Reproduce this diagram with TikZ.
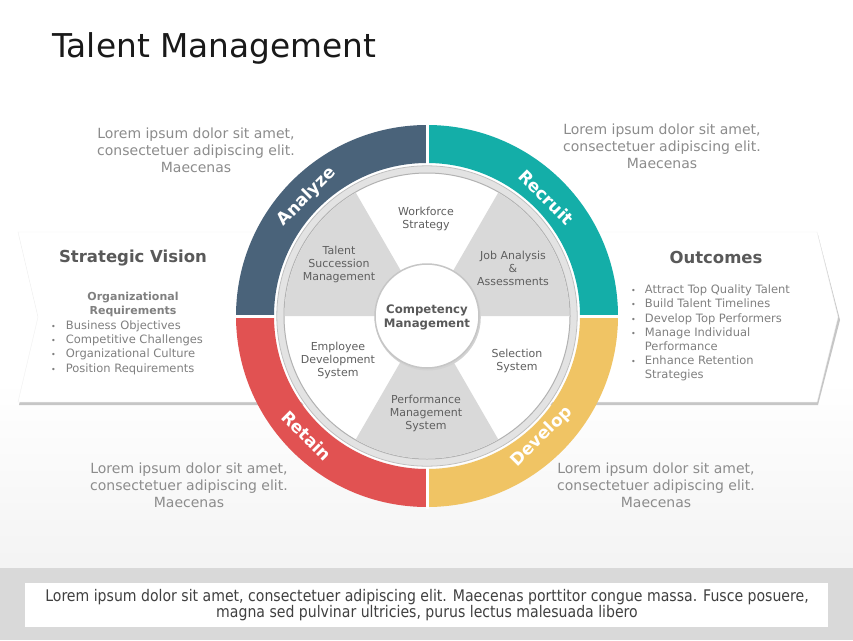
\documentclass[tikz,border=0pt]{standalone}
\usepackage{fontspec}
\setmainfont{DejaVu Sans}
\newfontfamily\condfont[FakeStretch=0.88]{DejaVu Sans}
\definecolor{analyzec}{HTML}{4A637A}
\definecolor{recruitc}{HTML}{14AEA8}
\definecolor{retainc}{HTML}{E15252}
\definecolor{developc}{HTML}{F0C464}
\definecolor{secgray}{HTML}{D9D9D9}
\definecolor{loremgray}{HTML}{8C8C8C}
\definecolor{labelgray}{HTML}{5F5F5F}
\definecolor{headgray}{HTML}{595959}
\definecolor{bulletgray}{HTML}{808080}
\definecolor{footgray}{HTML}{D9D9D9}
\definecolor{foottext}{HTML}{404040}
\begin{document}
\begin{tikzpicture}[x=1pt,y=-1pt,
  lorem/.style={text=loremgray, align=center, font=\fontsize{14}{17}\selectfont, inner sep=0},
  seclabel/.style={text=labelgray, align=center, font=\fontsize{11}{13}\selectfont, inner sep=0},
  ringlabel/.style={text=white, font=\bfseries\fontsize{17}{17}\selectfont, inner sep=0},
  heading/.style={text=headgray, font=\bfseries\fontsize{16.5}{18}\selectfont, inner sep=0},
  bulletlist/.style={text=bulletgray, font=\fontsize{11.5}{14.2}\selectfont, inner sep=0, anchor=west}]
\useasboundingbox (0,0) rectangle (853,640);
% background
\fill[white] (0,0) rectangle (853,568);
\shade[top color=white, bottom color=gray!9] (0,380) rectangle (853,568);
\fill[footgray] (0,568) rectangle (853,640);
\node[fill=white, minimum width=803pt, minimum height=44pt, inner sep=0, anchor=north west] (footbox) at (25,583) {};
\node[text=foottext, align=center, font=\condfont\fontsize{16}{16.5}\selectfont, inner sep=0] (foottxt) at (427,605)
  {Lorem ipsum dolor sit amet, consectetuer adipiscing elit. Maecenas porttitor congue massa. Fusce posuere,\\ magna sed pulvinar ultricies, purus lectus malesuada libero};
% title
\node[anchor=base west, inner sep=0, font=\fontsize{32.8}{36}\selectfont, text=black!90] (title) at (52,57) {Talent Management};
% banner
\fill[gray!45] (19,235) -- (818,235) -- (840,320) -- (818,405) -- (19,405) -- (39,320) -- cycle;
\fill[white, draw=gray!12] (18,232) -- (817,232) -- (838,317) -- (817,402) -- (18,402) -- (38,317) -- cycle;
% ring
\begin{scope}[shift={(427,316)}, y=1pt]
  \fill[analyzec] (90:191) arc[start angle=90,end angle=180,radius=191] -- (180:153) arc[start angle=180,end angle=90,radius=153] -- cycle;
  \fill[recruitc] (0:191) arc[start angle=0,end angle=90,radius=191] -- (90:153) arc[start angle=90,end angle=0,radius=153] -- cycle;
  \fill[retainc] (180:191) arc[start angle=180,end angle=270,radius=191] -- (270:153) arc[start angle=270,end angle=180,radius=153] -- cycle;
  \fill[developc] (270:191) arc[start angle=270,end angle=360,radius=191] -- (0:153) arc[start angle=0,end angle=-90,radius=153] -- cycle;
  \draw[white, line width=3pt] (-193,0) -- (193,0) (0,-193) -- (0,193);
  \fill[white] (0,0) circle[radius=152];
  \draw[gray!22, line width=7pt] (0,0) circle[radius=146.5];
  \draw[gray!50, line width=0.8pt] (0,0) circle[radius=150.2];
  \draw[gray!60, line width=1pt] (0,0) circle[radius=143];
  \fill[secgray] (0,0) -- (0:142.5) arc[start angle=0,end angle=60,radius=142.5] -- cycle;
  \fill[secgray] (0,0) -- (120:142.5) arc[start angle=120,end angle=180,radius=142.5] -- cycle;
  \fill[secgray] (0,0) -- (240:142.5) arc[start angle=240,end angle=300,radius=142.5] -- cycle;
  \fill[gray!35] (0.8,-1.5) circle[radius=53];
  \node[circle, fill=white, draw=gray!45, line width=1.5pt, minimum size=104pt, inner sep=0] (core) at (0,0) {};
\end{scope}
% ring labels
\node[ringlabel, rotate=45] (analyze) at (307,197) {Analyze};
\node[ringlabel, rotate=-45] (recruit) at (546,197) {Recruit};
\node[ringlabel, rotate=-45] (retain) at (307,436) {Retain};
\node[ringlabel, rotate=45] (develop) at (542,437) {Develop};
% sector labels
\node[text=headgray, align=center, font=\bfseries\fontsize{11.7}{14}\selectfont, inner sep=0] (comp) at (427,317) {Competency\\Management};
\node[seclabel] (work) at (426,218.5) {Workforce\\Strategy};
\node[seclabel] (talent) at (339,264) {Talent\\Succession\\Management};
\node[seclabel] (job) at (513,268) {Job Analysis\\\&\\Assessments};
\node[seclabel] (employee) at (338,360.5) {Employee\\Development\\System};
\node[seclabel] (selection) at (517,361) {Selection\\System};
\node[seclabel] (perf) at (426,413) {Performance\\Management\\System};
% lorem blocks
\node[lorem] (tl) at (196,150) {Lorem ipsum dolor sit amet,\\consectetuer adipiscing elit.\\Maecenas};
\node[lorem] (tr) at (662,146) {Lorem ipsum dolor sit amet,\\consectetuer adipiscing elit.\\Maecenas};
\node[lorem] (bl) at (189,485) {Lorem ipsum dolor sit amet,\\consectetuer adipiscing elit.\\Maecenas};
\node[lorem] (br) at (656,485) {Lorem ipsum dolor sit amet,\\consectetuer adipiscing elit.\\Maecenas};
% banner texts
\node[heading] (sv) at (133,258) {Strategic Vision};
\node[text=bulletgray, align=center, font=\bfseries\fontsize{11}{14}\selectfont, inner sep=0] (orgreq) at (133,304) {Organizational\\Requirements};
\node[bulletlist] (leftlist) at (51,348) {\begin{tabular}{@{}l@{\hspace{10pt}}l@{}}
{\fontsize{8}{8}\selectfont •} & Business Objectives\\
{\fontsize{8}{8}\selectfont •} & Competitive Challenges\\
{\fontsize{8}{8}\selectfont •} & Organizational Culture\\
{\fontsize{8}{8}\selectfont •} & Position Requirements
\end{tabular}};
\node[heading] (out) at (716,257) {Outcomes};
\node[bulletlist] (rightlist) at (631,333.5) {\begin{tabular}{@{}l@{\hspace{9pt}}l@{}}
{\fontsize{8}{8}\selectfont •} & Attract Top Quality Talent\\
{\fontsize{8}{8}\selectfont •} & Build Talent Timelines\\
{\fontsize{8}{8}\selectfont •} & Develop Top Performers\\
{\fontsize{8}{8}\selectfont •} & Manage Individual\\
 & Performance\\
{\fontsize{8}{8}\selectfont •} & Enhance Retention\\
 & Strategies
\end{tabular}};
\end{tikzpicture}
\end{document}
